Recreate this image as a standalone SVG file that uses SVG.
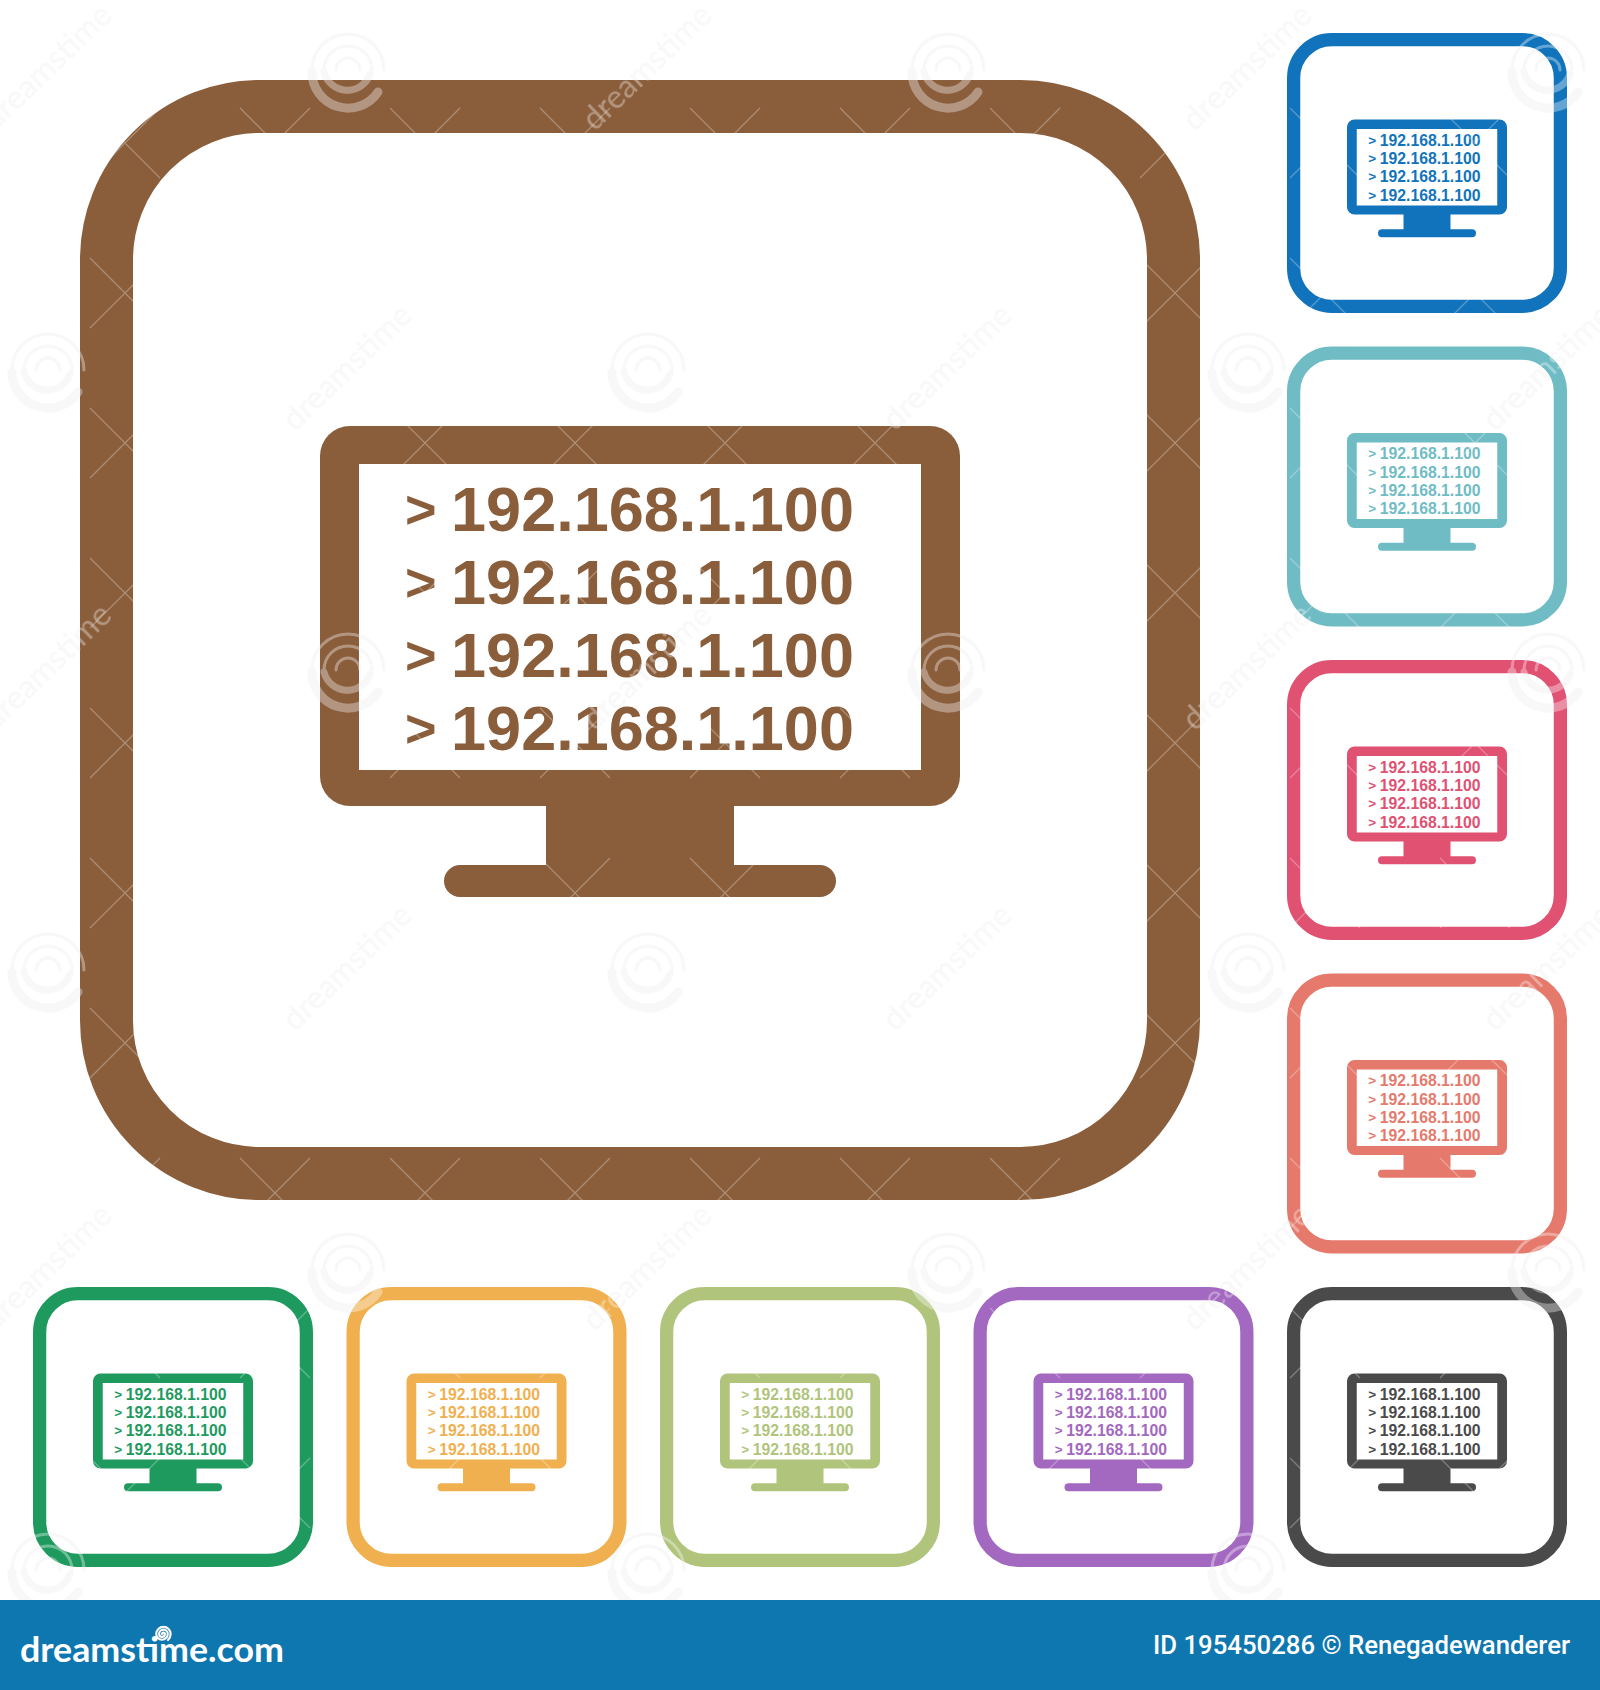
<svg xmlns="http://www.w3.org/2000/svg" xmlns:xlink="http://www.w3.org/1999/xlink" width="1600" height="1690" viewBox="0 0 1600 1690">
<style>
.fr{fill:none;stroke:currentColor;stroke-width:53}
.mon{fill:currentColor;fill-rule:evenodd;stroke:none}
.ip{fill:currentColor;font-family:"Liberation Sans",Arial,sans-serif;font-weight:700;font-size:63px;word-spacing:-3px}
.gt{font-size:54px;baseline-shift:3px}
.wt{font-family:"Lato","Noto Sans",sans-serif;font-size:32px;font-weight:400;stroke:none}
</style>
<defs>
<path id="monshape" class="mon" d="M350 426H930A30 30 0 0 1 960 456V776A30 30 0 0 1 930 806H734V865H820A16 16 0 0 1 820 897H460A16 16 0 0 1 460 865H546V806H350A30 30 0 0 1 320 776V456A30 30 0 0 1 350 426ZM359 464V770H921V464Z"/>
<g id="sp" fill="none" stroke-width="9" stroke-linecap="round"><path d="M0 0A6 6 0 0 1 12 0A12 12 0 0 1-12 0A18 18 0 0 1 24 0A24 24 0 0 1-24 0A30 30 0 0 1 36 0A36 36 0 0 1 25 25"/></g>
<g id="spb" fill="none" stroke-linecap="round"><path d="M-36 0A36 36 0 0 1 36 0M-24 0A24 24 0 0 1 24 0M-12 0A12 12 0 0 1 12 0" stroke-width="3"/><path d="M-36 2A36 36 0 0 0 30 22" stroke-width="9"/><path d="M-24 2A24 24 0 0 0 22 4" stroke-width="7"/></g>
<text id="dw" class="wt" transform="translate(8 5) rotate(-44)">dreamstime</text>
<g id="wm">
<use xlink:href="#spb" href="#spb" x="348" y="70"/><use href="#spb" xlink:href="#spb" x="948" y="70"/><use href="#spb" xlink:href="#spb" x="1548" y="70"/>
<use href="#spb" xlink:href="#spb" x="48" y="370"/><use href="#spb" xlink:href="#spb" x="648" y="370"/><use href="#spb" xlink:href="#spb" x="1248" y="370"/>
<use href="#spb" xlink:href="#spb" x="348" y="670"/><use href="#spb" xlink:href="#spb" x="948" y="670"/><use href="#spb" xlink:href="#spb" x="1548" y="670"/>
<use href="#spb" xlink:href="#spb" x="48" y="970"/><use href="#spb" xlink:href="#spb" x="648" y="970"/><use href="#spb" xlink:href="#spb" x="1248" y="970"/>
<use href="#spb" xlink:href="#spb" x="348" y="1270"/><use href="#spb" xlink:href="#spb" x="948" y="1270"/><use href="#spb" xlink:href="#spb" x="1548" y="1270"/>
<use href="#spb" xlink:href="#spb" x="48" y="1570"/><use href="#spb" xlink:href="#spb" x="648" y="1570"/><use href="#spb" xlink:href="#spb" x="1248" y="1570"/>
<use href="#dw" xlink:href="#dw" transform="translate(-13 127)"/><use href="#dw" xlink:href="#dw" transform="translate(587 127)"/><use href="#dw" xlink:href="#dw" transform="translate(1187 127)"/>
<use href="#dw" xlink:href="#dw" transform="translate(287 427)"/><use href="#dw" xlink:href="#dw" transform="translate(887 427)"/><use href="#dw" xlink:href="#dw" transform="translate(1487 427)"/>
<use href="#dw" xlink:href="#dw" transform="translate(-13 727)"/><use href="#dw" xlink:href="#dw" transform="translate(587 727)"/><use href="#dw" xlink:href="#dw" transform="translate(1187 727)"/>
<use href="#dw" xlink:href="#dw" transform="translate(287 1027)"/><use href="#dw" xlink:href="#dw" transform="translate(887 1027)"/><use href="#dw" xlink:href="#dw" transform="translate(1487 1027)"/>
<use href="#dw" xlink:href="#dw" transform="translate(-13 1327)"/><use href="#dw" xlink:href="#dw" transform="translate(587 1327)"/><use href="#dw" xlink:href="#dw" transform="translate(1187 1327)"/>
</g>
<pattern id="xs" width="150" height="150" patternUnits="userSpaceOnUse" x="50" y="68">
<path d="M40 40L110 110M40 110L110 40" stroke="#fff" stroke-width="1.2" fill="none"/>
</pattern>
</defs>
<rect width="1600" height="1690" fill="#fff"/>
<use id="watermark-under" href="#wm" xlink:href="#wm" fill="#f6f6f6" stroke="#f5f5f5"/>

<g id="icon-main" color="#8a5d3b">
<rect class="fr" x="106.5" y="106.5" width="1067" height="1067" rx="153"/>
<use href="#monshape" xlink:href="#monshape"/>
<text class="ip" x="405" y="531"><tspan class="gt">&gt;</tspan> 192.168.1.100</text><text class="ip" x="405" y="604"><tspan class="gt">&gt;</tspan> 192.168.1.100</text><text class="ip" x="405" y="677"><tspan class="gt">&gt;</tspan> 192.168.1.100</text><text class="ip" x="405" y="750"><tspan class="gt">&gt;</tspan> 192.168.1.100</text>
</g>

<g id="icon-blue" color="#1173bb" transform="translate(1287 33) scale(.25) translate(-80 -80)">
<rect class="fr" x="106.5" y="106.5" width="1067" height="1067" rx="153"/><use href="#monshape" xlink:href="#monshape"/>
<text class="ip" x="405" y="531"><tspan class="gt">&gt;</tspan> 192.168.1.100</text><text class="ip" x="405" y="604"><tspan class="gt">&gt;</tspan> 192.168.1.100</text><text class="ip" x="405" y="677"><tspan class="gt">&gt;</tspan> 192.168.1.100</text><text class="ip" x="405" y="750"><tspan class="gt">&gt;</tspan> 192.168.1.100</text>
</g>
<g id="icon-teal" color="#70bcc5" transform="translate(1287 346.5) scale(.25) translate(-80 -80)">
<rect class="fr" x="106.5" y="106.5" width="1067" height="1067" rx="153"/><use href="#monshape" xlink:href="#monshape"/>
<text class="ip" x="405" y="531"><tspan class="gt">&gt;</tspan> 192.168.1.100</text><text class="ip" x="405" y="604"><tspan class="gt">&gt;</tspan> 192.168.1.100</text><text class="ip" x="405" y="677"><tspan class="gt">&gt;</tspan> 192.168.1.100</text><text class="ip" x="405" y="750"><tspan class="gt">&gt;</tspan> 192.168.1.100</text>
</g>
<g id="icon-pink" color="#e05172" transform="translate(1287 660) scale(.25) translate(-80 -80)">
<rect class="fr" x="106.5" y="106.5" width="1067" height="1067" rx="153"/><use href="#monshape" xlink:href="#monshape"/>
<text class="ip" x="405" y="531"><tspan class="gt">&gt;</tspan> 192.168.1.100</text><text class="ip" x="405" y="604"><tspan class="gt">&gt;</tspan> 192.168.1.100</text><text class="ip" x="405" y="677"><tspan class="gt">&gt;</tspan> 192.168.1.100</text><text class="ip" x="405" y="750"><tspan class="gt">&gt;</tspan> 192.168.1.100</text>
</g>
<g id="icon-salmon" color="#e57a6c" transform="translate(1287 973.5) scale(.25) translate(-80 -80)">
<rect class="fr" x="106.5" y="106.5" width="1067" height="1067" rx="153"/><use href="#monshape" xlink:href="#monshape"/>
<text class="ip" x="405" y="531"><tspan class="gt">&gt;</tspan> 192.168.1.100</text><text class="ip" x="405" y="604"><tspan class="gt">&gt;</tspan> 192.168.1.100</text><text class="ip" x="405" y="677"><tspan class="gt">&gt;</tspan> 192.168.1.100</text><text class="ip" x="405" y="750"><tspan class="gt">&gt;</tspan> 192.168.1.100</text>
</g>
<g id="icon-dark" color="#4a4a4a" transform="translate(1287 1287) scale(.25) translate(-80 -80)">
<rect class="fr" x="106.5" y="106.5" width="1067" height="1067" rx="153"/><use href="#monshape" xlink:href="#monshape"/>
<text class="ip" x="405" y="531"><tspan class="gt">&gt;</tspan> 192.168.1.100</text><text class="ip" x="405" y="604"><tspan class="gt">&gt;</tspan> 192.168.1.100</text><text class="ip" x="405" y="677"><tspan class="gt">&gt;</tspan> 192.168.1.100</text><text class="ip" x="405" y="750"><tspan class="gt">&gt;</tspan> 192.168.1.100</text>
</g>
<g id="icon-purple" color="#a368c0" transform="translate(973.5 1287) scale(.25) translate(-80 -80)">
<rect class="fr" x="106.5" y="106.5" width="1067" height="1067" rx="153"/><use href="#monshape" xlink:href="#monshape"/>
<text class="ip" x="405" y="531"><tspan class="gt">&gt;</tspan> 192.168.1.100</text><text class="ip" x="405" y="604"><tspan class="gt">&gt;</tspan> 192.168.1.100</text><text class="ip" x="405" y="677"><tspan class="gt">&gt;</tspan> 192.168.1.100</text><text class="ip" x="405" y="750"><tspan class="gt">&gt;</tspan> 192.168.1.100</text>
</g>
<g id="icon-olive" color="#b0c47c" transform="translate(660 1287) scale(.25) translate(-80 -80)">
<rect class="fr" x="106.5" y="106.5" width="1067" height="1067" rx="153"/><use href="#monshape" xlink:href="#monshape"/>
<text class="ip" x="405" y="531"><tspan class="gt">&gt;</tspan> 192.168.1.100</text><text class="ip" x="405" y="604"><tspan class="gt">&gt;</tspan> 192.168.1.100</text><text class="ip" x="405" y="677"><tspan class="gt">&gt;</tspan> 192.168.1.100</text><text class="ip" x="405" y="750"><tspan class="gt">&gt;</tspan> 192.168.1.100</text>
</g>
<g id="icon-orange" color="#f0b04f" transform="translate(346.5 1287) scale(.25) translate(-80 -80)">
<rect class="fr" x="106.5" y="106.5" width="1067" height="1067" rx="153"/><use href="#monshape" xlink:href="#monshape"/>
<text class="ip" x="405" y="531"><tspan class="gt">&gt;</tspan> 192.168.1.100</text><text class="ip" x="405" y="604"><tspan class="gt">&gt;</tspan> 192.168.1.100</text><text class="ip" x="405" y="677"><tspan class="gt">&gt;</tspan> 192.168.1.100</text><text class="ip" x="405" y="750"><tspan class="gt">&gt;</tspan> 192.168.1.100</text>
</g>
<g id="icon-green" color="#1f9a5f" transform="translate(33 1287) scale(.25) translate(-80 -80)">
<rect class="fr" x="106.5" y="106.5" width="1067" height="1067" rx="153"/><use href="#monshape" xlink:href="#monshape"/>
<text class="ip" x="405" y="531"><tspan class="gt">&gt;</tspan> 192.168.1.100</text><text class="ip" x="405" y="604"><tspan class="gt">&gt;</tspan> 192.168.1.100</text><text class="ip" x="405" y="677"><tspan class="gt">&gt;</tspan> 192.168.1.100</text><text class="ip" x="405" y="750"><tspan class="gt">&gt;</tspan> 192.168.1.100</text>
</g>

<rect id="watermark-lines" width="1600" height="1600" fill="url(#xs)" opacity=".3"/>
<use id="watermark-over" href="#wm" xlink:href="#wm" fill="#fff" stroke="#fff" opacity=".36"/>

<g id="footer">
<rect y="1600" width="1600" height="90" fill="#0f77b0"/>
<text x="20" y="1662" fill="#fff" font-family="Lato,'Noto Sans',sans-serif" font-weight="700" font-size="34" textLength="264" lengthAdjust="spacingAndGlyphs">dreamstime.com</text>
<use href="#sp" xlink:href="#sp" transform="translate(162 1634) scale(.24)" stroke="#fff"/>
<text x="1153" y="1654" fill="#fff" font-family="Roboto,sans-serif" font-weight="500" font-size="25.5" textLength="417" lengthAdjust="spacingAndGlyphs">ID 195450286 © Renegadewanderer</text>
</g>
</svg>
